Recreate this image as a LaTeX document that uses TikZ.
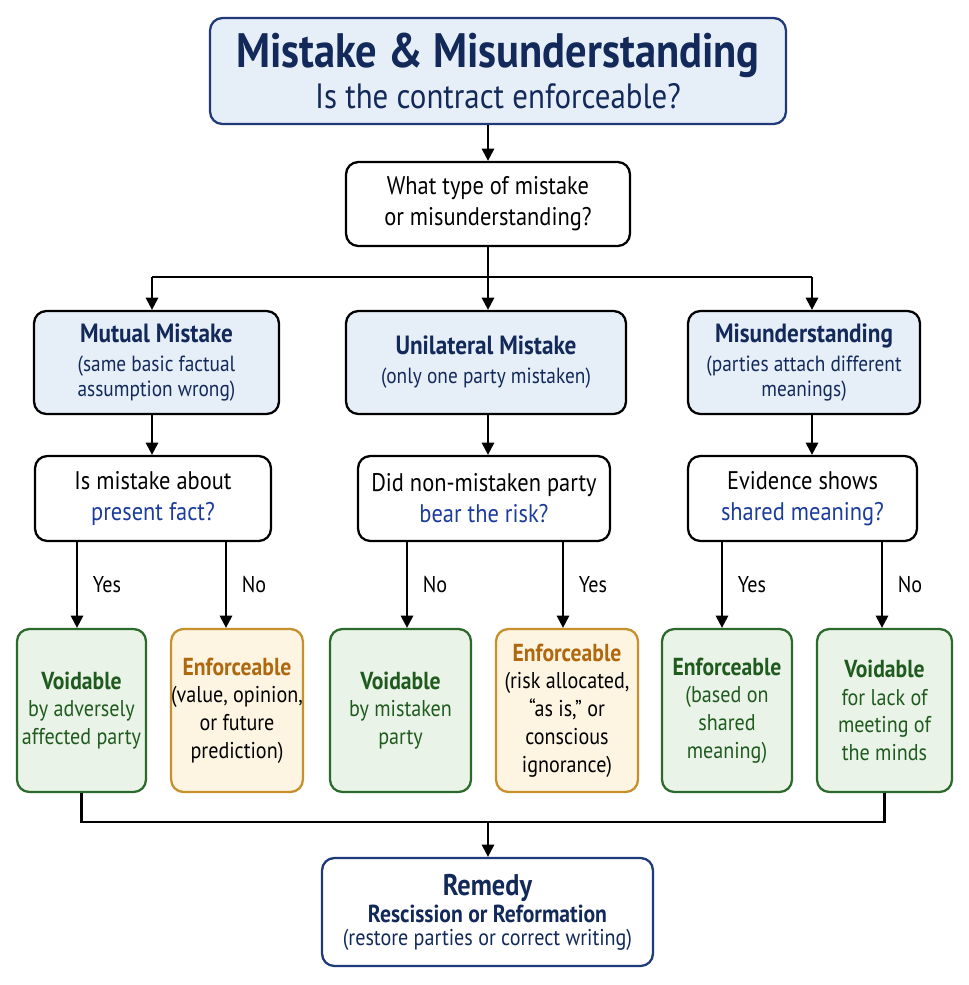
\documentclass[tikz,border=0pt]{standalone}
\usepackage{fontspec}
\setmainfont{PT Sans}[FakeStretch=0.88]
\usetikzlibrary{arrows.meta,positioning}
\definecolor{navy}{HTML}{12295A}
\definecolor{inkblue}{HTML}{1B3C9C}
\definecolor{catfill}{HTML}{E6EEF8}
\definecolor{catline}{HTML}{1F3A78}
\definecolor{okgreen}{HTML}{1F5A1F}
\definecolor{okfill}{HTML}{EAF3E7}
\definecolor{okline}{HTML}{2C6A2C}
\definecolor{warnline}{HTML}{C8902C}
\definecolor{warnfill}{HTML}{FDF4E2}
\definecolor{warnink}{HTML}{B0680E}
\newcommand\fsz[2]{\fontsize{#1}{#2}\selectfont}

\begin{document}
\begin{tikzpicture}[x=0.02cm,y=-0.02cm,
box/.style={draw,line width=1.3pt,rounded corners=7pt,align=center,inner sep=0pt},
cat/.style={box,fill=catfill,text=navy,minimum height=2.06cm,font=\fsz{12.5}{14.5}},
ask/.style={box,fill=white,minimum height=1.7cm,font=\fsz{14.5}{17.6}},
good/.style={box,draw=okline,fill=okfill,text=okgreen,minimum height=3.26cm,font=\fsz{13}{15.8}},
fair/.style={box,draw=warnline,fill=warnfill,minimum height=3.26cm,font=\fsz{13}{15.8}},
arr/.style={-{Triangle[width=7pt,length=7pt]},line width=1.3pt},
lbl/.style={midway,right=5pt,font=\fsz{13}{15}}]
\useasboundingbox (0,0) rectangle (969,985);
% header
\node[box,fill=catfill,draw=catline,text=navy,minimum width=11.52cm,minimum height=2.12cm](title)at(498,71)
{{\fsz{27.5}{30}\bfseries Mistake \& Misunderstanding}\\[2pt]{\fsz{20}{22}Is the contract enforceable?}};
\node[box,minimum width=5.68cm,minimum height=1.68cm,font=\fsz{14.5}{17.6}](q)at(488,204)
{What type of mistake\\or misunderstanding?};
\draw[arr](title.south -| q.north)--(q.north);
% three kinds
\node[cat,minimum width=4.9cm](mm)at(156.5,362.5)
{{\fsz{15}{17}\bfseries Mutual Mistake}\\[2pt](same basic factual\\assumption wrong)};
\node[cat,minimum width=5.6cm](um)at(486,362.5)
{{\fsz{15}{17}\bfseries Unilateral Mistake}\\[2pt](only one party mistaken)};
\node[cat,minimum width=4.64cm](ms)at(804,362.5)
{{\fsz{15}{17}\bfseries Misunderstanding}\\[2pt](parties attach different\\meanings)};
\coordinate(b1)at(152,277);
\coordinate(b3)at(812,277);
\draw[line width=1.3pt](q.south)|-(b1);
\draw[line width=1.3pt](q.south)|-(b3);
\draw[arr](b1)--(b1 |- mm.north);
\draw[arr](q.south)--(q.south |- um.north);
\draw[arr](b3)--(b3 |- ms.north);
% questions
\node[ask,minimum width=4.72cm](q1)at(153,498.5){Is mistake about\\\textcolor{inkblue}{present fact?}};
\node[ask,minimum width=5.04cm](q2)at(484,498.5){Did non-mistaken party\\\textcolor{inkblue}{bear the risk?}};
\node[ask,minimum width=4.58cm](q3)at(802.5,498.5){Evidence shows\\\textcolor{inkblue}{shared meaning?}};
\draw[arr](mm.south -| b1)--(q1.north -| b1);
\draw[arr](um.south -| q.south)--(q2.north -| q.south);
\draw[arr](ms.south -| b3)--(q3.north -| b3);
% outcomes
\node[good,minimum width=2.58cm](o1)at(81.5,710.5){{\fsz{14}{16}\bfseries Voidable}\\by adversely\\affected party};
\node[fair,minimum width=2.6cm](o2)at(237,710.5){{\fsz{14}{16}\bfseries\color{warnink}Enforceable}\\(value, opinion,\\or future\\prediction)};
\node[good,minimum width=2.82cm](o3)at(400.5,710.5){{\fsz{14}{16}\bfseries Voidable}\\by mistaken\\party};
\node[fair,minimum width=2.84cm](o4)at(567,710.5){{\fsz{14}{16}\bfseries\color{warnink}Enforceable}\\(risk allocated,\\“as is,” or\\conscious\\ignorance)};
\node[good,minimum width=2.6cm](o5)at(727,710.5){{\fsz{14}{16}\bfseries Enforceable}\\(based on\\shared\\meaning)};
\node[good,minimum width=2.7cm](o6)at(884.5,710.5){{\fsz{14}{16}\bfseries Voidable}\\for lack of\\meeting of\\the minds};
\draw[arr]([xshift=-0.09cm]o1.north |- q1.south)--([xshift=-0.09cm]o1.north)node[lbl]{Yes};
\draw[arr]([xshift=-0.22cm]o2.north |- q1.south)--([xshift=-0.22cm]o2.north)node[lbl]{No};
\draw[arr]([xshift=0.13cm]o3.north |- q2.south)--([xshift=0.13cm]o3.north)node[lbl]{No};
\draw[arr]([xshift=-0.08cm]o4.north |- q2.south)--([xshift=-0.08cm]o4.north)node[lbl]{Yes};
\draw[arr]([xshift=-0.1cm]o5.north |- q3.south)--([xshift=-0.1cm]o5.north)node[lbl]{Yes};
\draw[arr]([xshift=-0.05cm]o6.north |- q3.south)--([xshift=-0.05cm]o6.north)node[lbl]{No};
% remedy
\node[box,draw=catline,fill=white,text=navy,minimum width=6.62cm,minimum height=2.16cm](rem)at(487.5,912)
{{\fsz{17}{19}\bfseries Remedy}\\[1pt]{\fsz{14}{16}\bfseries Rescission or Reformation}\\[1pt]{\fsz{13}{15}(restore parties or correct writing)}};
\coordinate(m)at(488,822);
\draw[line width=1.3pt](o1.south)|-(m)-|(o6.south);
\draw[arr](m)--(rem.north -| m);
\end{tikzpicture}
\end{document}
